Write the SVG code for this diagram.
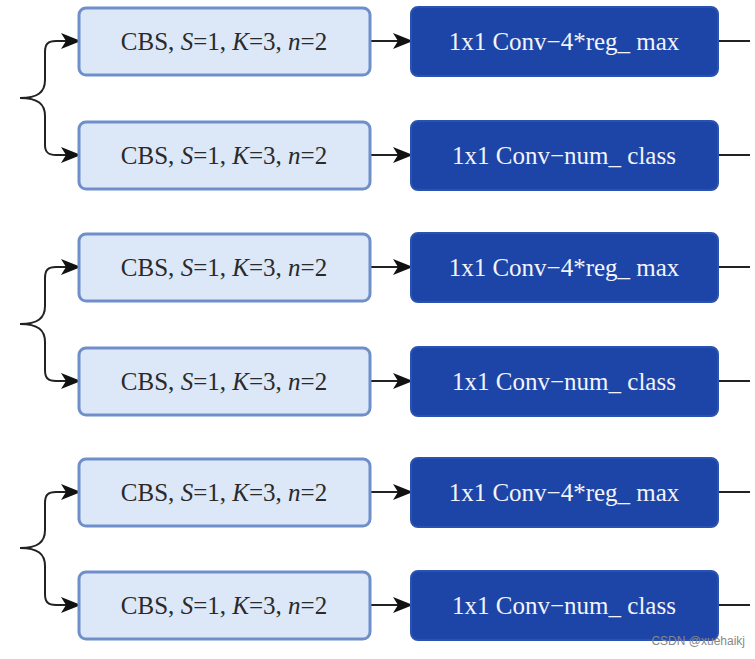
<svg xmlns="http://www.w3.org/2000/svg" width="755" height="659" viewBox="0 0 755 659">
<style>
.l{fill:#dce7f8;stroke:#6f8fcb;stroke-width:3}
.d{fill:#1d45a7;stroke:#2a52b0;stroke-width:2}
.tl{fill:#2a2a2a}.td{fill:#f2f4fb}
.c{fill:none;stroke:#222;stroke-width:2}
</style>
<defs>
<marker id="b" markerWidth="20" markerHeight="16" refX="18" refY="8" orient="auto" markerUnits="userSpaceOnUse" viewBox="0 0 20 16"><path d="M0,0 L20,8 L0,16 L5,8 Z" fill="#111"/></marker></defs>
<g id="connectors">
<path class="c" marker-end="url(#b)" d="M20,98 C38,98 45,92 45,80 L45,52 C45,44 48,41 56,41 L79,41"/>
<path class="c" marker-end="url(#b)" d="M20,98 C38,98 45,104 45,116 L45,145 C45,152 48,155 56,155 L79,155"/>
<path class="c" marker-end="url(#b)" d="M20,324 C38,324 45,318 45,306 L45,278 C45,270 48,267 56,267 L79,267"/>
<path class="c" marker-end="url(#b)" d="M20,324 C38,324 45,330 45,342 L45,370 C45,378 48,381 56,381 L79,381"/>
<path class="c" marker-end="url(#b)" d="M20,548 C38,548 45,542 45,530 L45,503 C45,495 48,492 56,492 L79,492"/>
<path class="c" marker-end="url(#b)" d="M20,548 C38,548 45,554 45,566 L45,594 C45,602 48,605 56,605 L79,605"/>
<path class="c" marker-end="url(#b)" d="M370,41 L411,41"/><path class="c" d="M718,41 L750,41"/>
<path class="c" marker-end="url(#b)" d="M370,155 L411,155"/><path class="c" d="M718,155 L750,155"/>
<path class="c" marker-end="url(#b)" d="M370,267 L411,267"/><path class="c" d="M718,267 L750,267"/>
<path class="c" marker-end="url(#b)" d="M370,381 L411,381"/><path class="c" d="M718,381 L750,381"/>
<path class="c" marker-end="url(#b)" d="M370,492 L411,492"/><path class="c" d="M718,492 L750,492"/>
<path class="c" marker-end="url(#b)" d="M370,605 L411,605"/><path class="c" d="M718,605 L750,605"/>
</g>
<g font-family="Liberation Serif, serif" font-size="25" text-anchor="middle">
<g id="cbs1"><rect class="l" x="79" y="8" width="291" height="67" rx="7"/><text class="tl" x="224" y="50">CBS, <tspan font-style="italic">S</tspan>=1, <tspan font-style="italic">K</tspan>=3, <tspan font-style="italic">n</tspan>=2</text></g>
<g id="cbs2"><rect class="l" x="79" y="122" width="291" height="67" rx="7"/><text class="tl" x="224" y="164">CBS, <tspan font-style="italic">S</tspan>=1, <tspan font-style="italic">K</tspan>=3, <tspan font-style="italic">n</tspan>=2</text></g>
<g id="cbs3"><rect class="l" x="79" y="234" width="291" height="67" rx="7"/><text class="tl" x="224" y="276">CBS, <tspan font-style="italic">S</tspan>=1, <tspan font-style="italic">K</tspan>=3, <tspan font-style="italic">n</tspan>=2</text></g>
<g id="cbs4"><rect class="l" x="79" y="348" width="291" height="67" rx="7"/><text class="tl" x="224" y="390">CBS, <tspan font-style="italic">S</tspan>=1, <tspan font-style="italic">K</tspan>=3, <tspan font-style="italic">n</tspan>=2</text></g>
<g id="cbs5"><rect class="l" x="79" y="459" width="291" height="67" rx="7"/><text class="tl" x="224" y="501">CBS, <tspan font-style="italic">S</tspan>=1, <tspan font-style="italic">K</tspan>=3, <tspan font-style="italic">n</tspan>=2</text></g>
<g id="cbs6"><rect class="l" x="79" y="572" width="291" height="67" rx="7"/><text class="tl" x="224" y="614">CBS, <tspan font-style="italic">S</tspan>=1, <tspan font-style="italic">K</tspan>=3, <tspan font-style="italic">n</tspan>=2</text></g>
<g id="conv1"><rect class="d" x="411" y="7" width="307" height="69" rx="7"/><text class="td" x="564" y="50">1x1 Conv−4*reg_ max</text></g>
<g id="conv2"><rect class="d" x="411" y="121" width="307" height="69" rx="7"/><text class="td" x="564" y="164">1x1 Conv−num_ class</text></g>
<g id="conv3"><rect class="d" x="411" y="233" width="307" height="69" rx="7"/><text class="td" x="564" y="276">1x1 Conv−4*reg_ max</text></g>
<g id="conv4"><rect class="d" x="411" y="347" width="307" height="69" rx="7"/><text class="td" x="564" y="390">1x1 Conv−num_ class</text></g>
<g id="conv5"><rect class="d" x="411" y="458" width="307" height="69" rx="7"/><text class="td" x="564" y="501">1x1 Conv−4*reg_ max</text></g>
<g id="conv6"><rect class="d" x="411" y="571" width="307" height="69" rx="7"/><text class="td" x="564" y="614">1x1 Conv−num_ class</text></g>
</g>
<text x="745" y="645" font-family="Liberation Sans, sans-serif" font-size="12" fill="#888" text-anchor="end">CSDN @xuehaikj</text>
</svg>
